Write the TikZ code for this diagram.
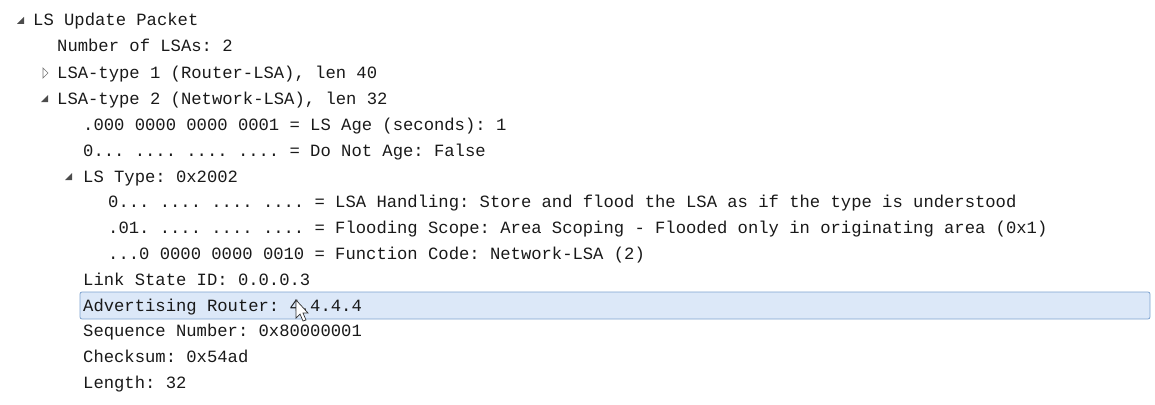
\documentclass[tikz,border=0pt]{standalone}
\usepackage{fontspec}
\setmonofont{Liberation Mono}
\definecolor{hlfill}{HTML}{DCE8F8}
\definecolor{hldraw}{HTML}{7DA2CE}
\begin{document}
\begin{tikzpicture}[x=1pt,y=-1pt,
  t/.style={anchor=base west,inner sep=0pt,font=\fontsize{17.2}{20}\ttfamily,text=black!90},
  exp/.style={fill=black!70},
  col/.style={draw=black!55,line width=0.7pt,fill=white}]
\useasboundingbox (0,0) rectangle (1155,404);
\begin{scope}
\clip (0,0) rectangle (1155,404);
% highlight
\draw[draw=hldraw,fill=hlfill,rounded corners=2pt,line width=0.8pt] (80,292) rectangle (1150,319);
\node[t] (r1) at (33,26) {LS Update Packet};
\node[t] (r2) at (57,52) {Number of LSAs: 2};
\node[t] (r3) at (57,78) {LSA-type 1 (Router-LSA), len 40};
\node[t] (r4) at (57,104) {LSA-type 2 (Network-LSA), len 32};
\node[t] (r5) at (83,130) {.000 0000 0000 0001 = LS Age (seconds): 1};
\node[t] (r6) at (83,156) {0... .... .... .... = Do Not Age: False};
\node[t] (r7) at (83,182) {LS Type: 0x2002};
\node[t] (r8) at (108,207) {0... .... .... .... = LSA Handling: Store and flood the LSA as if the type is understood};
\node[t] (r9) at (108,233) {.01. .... .... .... = Flooding Scope: Area Scoping - Flooded only in originating area (0x1)};
\node[t] (r10) at (108,259) {...0 0000 0000 0010 = Function Code: Network-LSA (2)};
\node[t] (r11) at (83,285) {Link State ID: 0.0.0.3};
\node[t] (r12) at (83,311) {Advertising Router: 4.4.4.4};
\node[t] (r13) at (83,336) {Sequence Number: 0x80000001};
\node[t] (r14) at (83,362) {Checksum: 0x54ad};
\node[t] (r15) at (83,388) {Length: 32};
% expanders
\foreach \x/\y in {21/21, 45/99, 69/177} {
  \fill[exp] (\x-4,\y+3) -- (\x+3,\y+3) -- (\x+3,\y-4) -- cycle;
}
\draw[col] (43,68) -- (43,78) -- (48,73) -- cycle;
% cursor
\draw[fill=white,draw=black!80,line width=0.7pt] (296,300) -- (296,318) -- (300,314) -- (303,321) -- (306,320) -- (303,313) -- (308,313) -- cycle;
\end{scope}
\end{tikzpicture}
\end{document}
